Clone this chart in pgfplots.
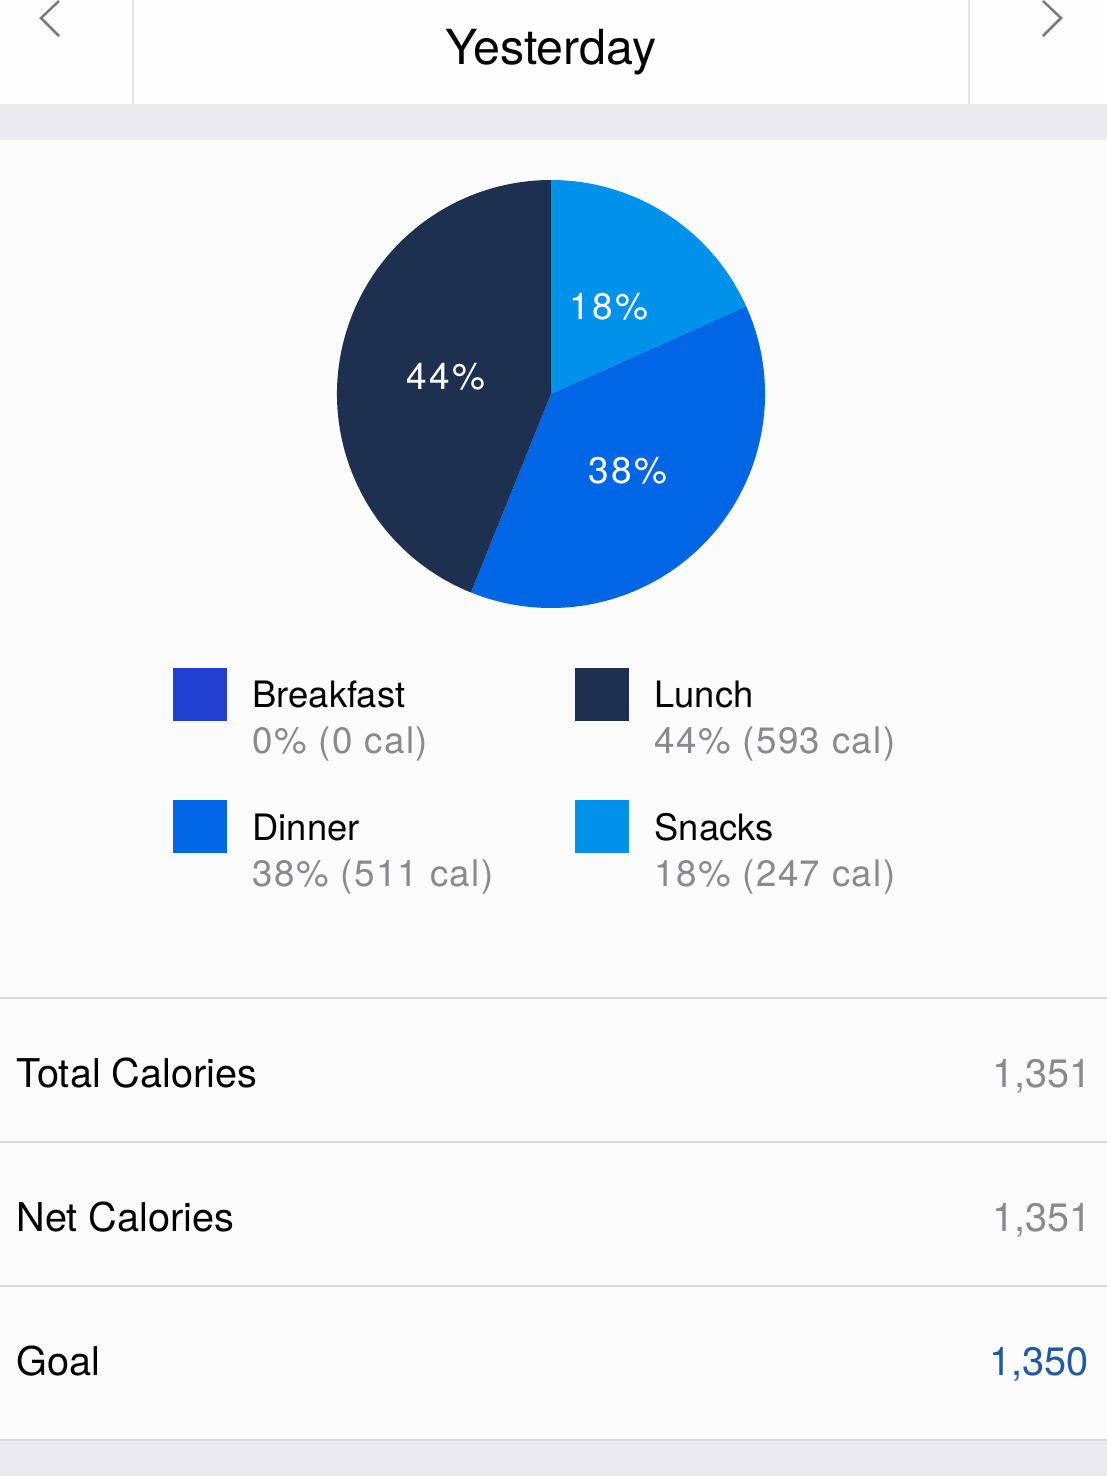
\documentclass[border=0pt]{standalone}
\usepackage{pgfplots}
\pgfplotsset{compat=1.18}
\usepackage{pgfplotstable}
\usetikzlibrary{calc}
\usepackage{fontspec}
\setmainfont{TeX Gyre Heros}
\newfontfamily\wide[LetterSpace=4]{TeX Gyre Heros}
\newfontfamily\wider[LetterSpace=6]{TeX Gyre Heros}
\definecolor{cLunch}{HTML}{1D3050}
\definecolor{cDinner}{HTML}{0066E6}
\definecolor{cSnacks}{HTML}{0091EA}
\definecolor{cBreak}{HTML}{1F40D0}
\definecolor{band}{HTML}{E9E9EE}
\definecolor{mainbg}{HTML}{FBFBFC}
\definecolor{sep}{HTML}{D8D8DC}
\definecolor{subgray}{HTML}{8A8A8E}
\definecolor{goalblue}{HTML}{1E58A6}
\definecolor{chev}{HTML}{7A7A7E}

\pgfplotstableread{
meal cal
Breakfast 0
Lunch 593
Dinner 511
Snacks 247
}\meals

\begin{document}
\begin{tikzpicture}
\pgfplotstablegetelem{0}{cal}\of\meals \let\vB\pgfplotsretval
\pgfplotstablegetelem{1}{cal}\of\meals \let\vL\pgfplotsretval
\pgfplotstablegetelem{2}{cal}\of\meals \let\vD\pgfplotsretval
\pgfplotstablegetelem{3}{cal}\of\meals \let\vS\pgfplotsretval
\pgfmathsetmacro\tot{\vB+\vL+\vD+\vS}
\pgfmathsetmacro\aS{90}
\pgfmathsetmacro\aSe{\aS-\vS/\tot*360}
\pgfmathsetmacro\aDe{\aSe-\vD/\tot*360}
\pgfmathsetmacro\aLe{\aDe-\vL/\tot*360}
\pgfmathsetmacro\mS{(\aS+\aSe)/2}
\pgfmathsetmacro\mD{(\aSe+\aDe)/2}
\pgfmathsetmacro\mL{(\aDe+\aLe)/2}
\def\R{64.2pt}
\def\r{32.1pt}
\begin{axis}[at={(0,0)}, anchor=south west, scale only axis,
  width=332.1pt, height=442.8pt,
  xmin=0, xmax=1107, ymin=0, ymax=1476, y dir=reverse,
  axis lines=none, clip=false]
% backgrounds
\fill[mainbg] (axis cs:-2,-2) rectangle (axis cs:1109,1478);
\fill[white!99!gray] (axis cs:-2,-2) rectangle (axis cs:1109,104);
\fill[band] (axis cs:-2,104) rectangle (axis cs:1109,140);
\fill[band] (axis cs:-2,1440) rectangle (axis cs:1109,1478);
\draw[sep, line width=0.5pt] (axis cs:-2,1440) -- (axis cs:1109,1440);
% top bar
\draw[sep!70!white, line width=0.6pt] (axis cs:133,-2) -- (axis cs:133,104);
\draw[sep!70!white, line width=0.6pt] (axis cs:969,-2) -- (axis cs:969,104);
\draw[chev, line width=0.75pt] (axis cs:59,1) -- (axis cs:41,18) -- (axis cs:59,36);
\draw[chev, line width=0.75pt] (axis cs:1043,1) -- (axis cs:1061,18) -- (axis cs:1043,36);
\node[anchor=base, black, font=\fontsize{14.5}{17}\selectfont, inner sep=0pt] at (axis cs:551,64) {Yesterday};
% pie
\fill[cSnacks] (axis cs:551,394) -- ++(\aS:\R) arc[start angle=\aS, end angle=\aSe, radius=\R] -- cycle;
\fill[cDinner] (axis cs:551,394) -- ++(\aSe:\R) arc[start angle=\aSe, end angle=\aDe, radius=\R] -- cycle;
\fill[cLunch] (axis cs:551,394) -- ++(\aDe:\R) arc[start angle=\aDe, end angle=\aLe, radius=\R] -- cycle;
\begin{scope}[every node/.style={white, font=\wider\fontsize{11.1}{13}\selectfont}]
\node at ($(axis cs:551,397)+(\mS:\r)$) {18\%};
\node at ($(axis cs:551,397)+(\mD:\r)$) {38\%};
\node at ($(axis cs:551,397)+(\mL:\r)$) {44\%};
\end{scope}
% legend
\fill[cBreak] (axis cs:173,668) rectangle (axis cs:227,721);
\fill[cLunch] (axis cs:575,668) rectangle (axis cs:629,721);
\fill[cDinner] (axis cs:173,800) rectangle (axis cs:227,853);
\fill[cSnacks] (axis cs:575,800) rectangle (axis cs:629,853);
\begin{scope}[every node/.style={anchor=base west, inner sep=0pt, font=\fontsize{10.9}{13}\selectfont}]
\node[black] at (axis cs:252,707) {Breakfast};
\node[black] at (axis cs:654,707) {Lunch};
\node[black] at (axis cs:252,840) {Dinner};
\node[black] at (axis cs:654,840) {Snacks};
\end{scope}
\begin{scope}[every node/.style={anchor=base west, inner sep=0pt, subgray, font=\wide\fontsize{11.0}{13}\selectfont}]
\node at (axis cs:252,753) {0\% (0 cal)};
\node at (axis cs:654,753) {44\% (593 cal)};
\node at (axis cs:252,886) {38\% (511 cal)};
\node at (axis cs:654,886) {18\% (247 cal)};
\end{scope}
% rows
\draw[sep, line width=0.45pt] (axis cs:-2,998) -- (axis cs:1109,998);
\draw[sep, line width=0.45pt] (axis cs:-2,1142) -- (axis cs:1109,1142);
\draw[sep, line width=0.45pt] (axis cs:-2,1286) -- (axis cs:1109,1286);
\begin{scope}[every node/.style={inner sep=0pt, font=\fontsize{11.9}{14}\selectfont}]
\node[anchor=base west, black] at (axis cs:16,1087) {Total Calories};
\node[anchor=base east, subgray] at (axis cs:1092,1087) {1,351};
\node[anchor=base west, black] at (axis cs:16,1231) {Net Calories};
\node[anchor=base east, subgray] at (axis cs:1092,1231) {1,351};
\node[anchor=base west, black] at (axis cs:16,1375) {Goal};
\node[anchor=base east, goalblue] at (axis cs:1089,1375) {1,350};
\end{scope}
\end{axis}
\pgfresetboundingbox
\useasboundingbox (0,0) rectangle (332.1pt,442.8pt);
\end{tikzpicture}
\end{document}
